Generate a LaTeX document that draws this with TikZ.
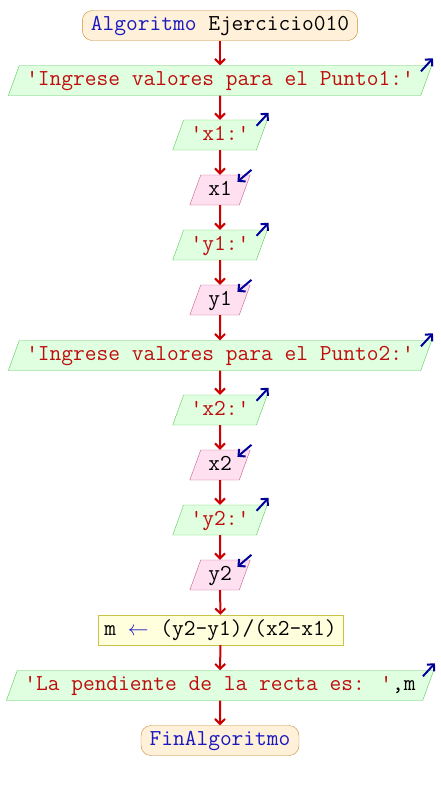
\documentclass[tikz,border=0pt]{standalone}
\usepackage{fontspec}
\usetikzlibrary{shapes.geometric,arrows.meta}
\definecolor{strred}{rgb}{0.75,0.05,0.05}
\definecolor{kwblue}{rgb}{0.1,0.1,0.75}
\definecolor{arrred}{rgb}{0.8,0,0}
\definecolor{ionavy}{rgb}{0,0,0.6}
\newcommand{\pstr}[1]{{\color{strred}#1}}
\newcommand{\pkw}[1]{{\color{kwblue}#1}}
\newcommand{\q}{\textquotesingle}
\tikzset{
  every node/.style={font=\ttfamily\fontsize{22.8}{26}\selectfont,text height=15pt,text depth=5pt,inner ysep=5pt},
  terminal/.style={rectangle,rounded corners=10pt,draw={rgb,255:red,200;green,140;blue,50},fill={rgb,255:red,255;green,240;blue,218},inner xsep=8.5pt},
  outbox/.style={trapezium,trapezium left angle=70,trapezium right angle=110,draw={rgb,255:red,90;green,200;blue,90},fill={rgb,255:red,224;green,255;blue,224},inner xsep=7pt},
  inbox/.style={trapezium,trapezium left angle=70,trapezium right angle=110,draw={rgb,255:red,200;green,90;blue,140},fill={rgb,255:red,255;green,224;blue,240},inner xsep=7.5pt},
  assignbox/.style={rectangle,draw={rgb,255:red,200;green,195;blue,70},fill={rgb,255:red,255;green,255;blue,222},inner xsep=6.5pt},
  flow/.style={draw=arrred,line width=2pt,-{Straight Barb[length=5pt,width=10pt]}},
  outmark/.style={draw=ionavy,line width=2pt,-{Straight Barb[length=5pt,width=10pt]}},
  inmark/.style={draw=ionavy,line width=2pt,-{Straight Barb[length=5pt,width=10pt]}}
}
\begin{document}
\begin{tikzpicture}[x=1pt,y=-1pt]
\useasboundingbox[fill=white] (0,0) rectangle (440,790);
\node[terminal] (start) at (220,25.5) {\pkw{Algoritmo} Ejercicio010};
\node[outbox] (pedir1) at (220,80.5) {\pstr{\q Ingrese valores para el Punto1:\q}};
\node[outbox] (msgx1) at (220,135) {\pstr{\q x1:\q}};
\node[inbox] (leex1) at (220,190) {x1};
\node[outbox] (msgy1) at (220,245) {\pstr{\q y1:\q}};
\node[inbox] (leey1) at (220,300) {y1};
\node[outbox] (pedir2) at (220,355.5) {\pstr{\q Ingrese valores para el Punto2:\q}};
\node[outbox] (msgx2) at (220,410) {\pstr{\q x2:\q}};
\node[inbox] (leex2) at (220,465) {x2};
\node[outbox] (msgy2) at (220,520) {\pstr{\q y2:\q}};
\node[inbox] (leey2) at (220,575) {y2};
\node[assignbox] (calc) at (220.5,630) {m \pkw{$\leftarrow$} (y2-y1)/(x2-x1)};
\node[outbox] (result) at (220,685.5) {\pstr{\q La pendiente de la recta es: \q},m};
\node[terminal] (stop) at (220,740.5) {\pkw{FinAlgoritmo}};
% flujo
\draw[flow] (start) -- (pedir1);
\draw[flow] (pedir1) -- (msgx1);
\draw[flow] (msgx1) -- (leex1);
\draw[flow] (leex1) -- (msgy1);
\draw[flow] (msgy1) -- (leey1);
\draw[flow] (leey1) -- (pedir2);
\draw[flow] (pedir2) -- (msgx2);
\draw[flow] (msgx2) -- (leex2);
\draw[flow] (leex2) -- (msgy2);
\draw[flow] (msgy2) -- (leey2);
\draw[flow] (leey2) -- (calc);
\draw[flow] (calc) -- (result);
\draw[flow] (result) -- (stop);
% marcas de escribir / leer
\foreach \o in {pedir1,msgx1,msgy1,pedir2,msgx2,msgy2,result}
  \draw[outmark] ([shift={(-11,6)}]\o.top right corner) -- ([shift={(1,-7)}]\o.top right corner);
\foreach \i in {leex1,leey1,leex2,leey2}
  \draw[inmark] ([shift={(1,-5)}]\i.top right corner) -- ([shift={(-13,7)}]\i.top right corner);
\end{tikzpicture}
\end{document}
